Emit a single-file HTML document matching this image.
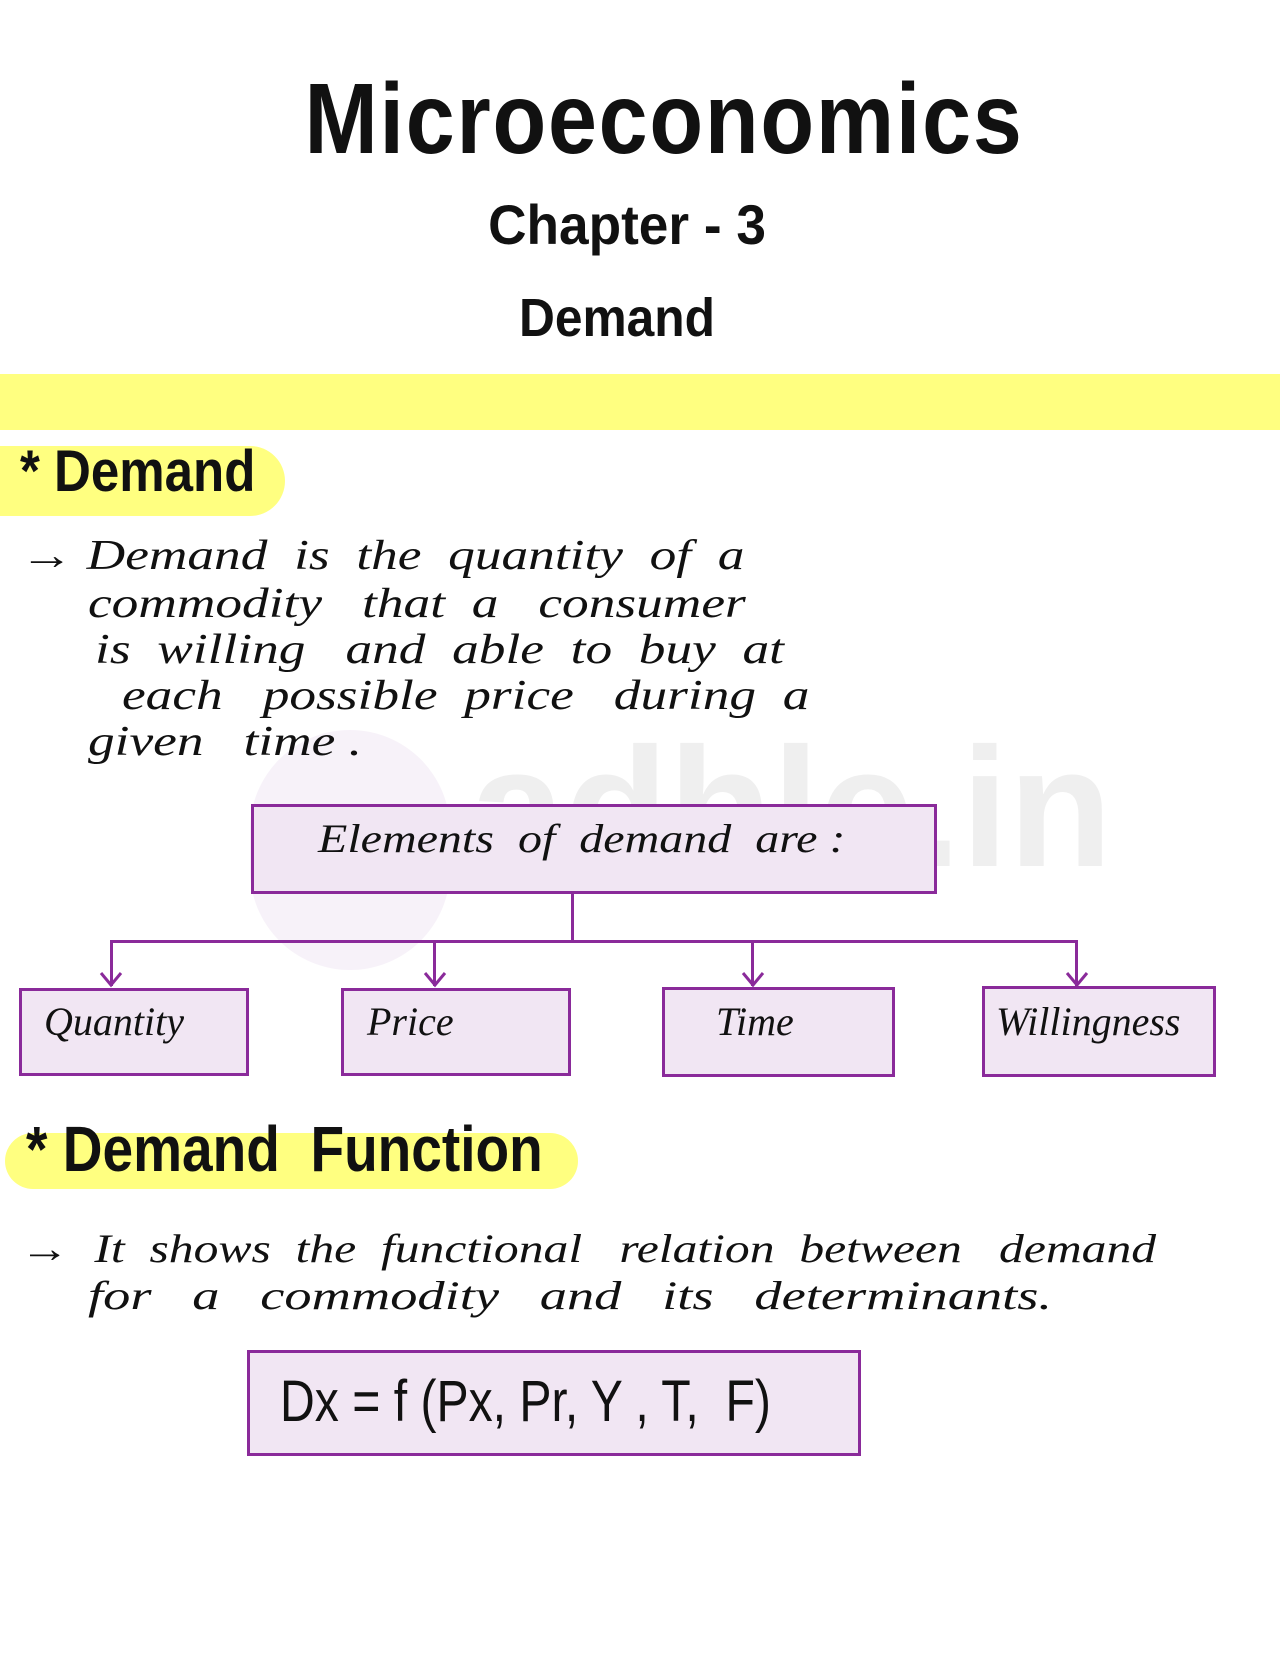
<!DOCTYPE html>
<html><head><meta charset="utf-8"><style>
body{margin:0;width:1280px;height:1653px;background:#fff;position:relative;overflow:hidden;font-family:"Liberation Sans",sans-serif;}
.a{position:absolute;}
.t{font-weight:bold;color:#111;white-space:nowrap;}
.h{font-family:"Liberation Serif",serif;font-style:italic;color:#111;white-space:nowrap;font-size:42px;transform-origin:0 0;transform:scaleX(1.27);}
.box{position:absolute;background:#f1e6f3;border:3px solid #8a2a9a;box-sizing:border-box;}
.ln{position:absolute;background:#8a2a9a;}
</style></head><body>
<div class="a" style="left:470px;top:710px;font-size:170px;color:#efefef;font-weight:bold;white-space:nowrap">adhle.in</div>
<div class="a" style="left:250px;top:730px;width:200px;height:240px;border-radius:100px;background:#f3ecf7;opacity:.7"></div>
<div class="a t" style="left:0;width:1328px;text-align:center;top:62px;font-size:100px;letter-spacing:2px;transform:scaleX(0.88)">Microeconomics</div>
<div class="a t" style="left:0;width:1254px;text-align:center;top:192px;font-size:56px;transform:scaleX(0.95)">Chapter - 3</div>
<div class="a t" style="left:0;width:1234px;text-align:center;top:287px;font-size:54px;transform:scaleX(0.92)">Demand</div>
<div class="a" style="left:0;top:374px;width:1280px;height:56px;background:#ffff80"></div>
<div class="a" style="left:0;top:446px;width:285px;height:70px;background:#ffff80;border-radius:0 35px 35px 0"></div>
<div class="a t" style="left:20px;top:438px;font-size:58px;transform-origin:0 0;transform:scaleX(0.88)">* Demand</div>
<div class="a h" style="left:20px;top:532px">→ Demand &nbsp;is &nbsp;the &nbsp;quantity &nbsp;of &nbsp;a</div>
<div class="a h" style="left:88px;top:580px">commodity &nbsp;&nbsp;that &nbsp;a &nbsp;&nbsp;consumer</div>
<div class="a h" style="left:95px;top:626px">is &nbsp;willing &nbsp;&nbsp;and &nbsp;able &nbsp;to &nbsp;buy &nbsp;at</div>
<div class="a h" style="left:122px;top:672px">each &nbsp;&nbsp;possible &nbsp;price &nbsp;&nbsp;during &nbsp;a</div>
<div class="a h" style="left:88px;top:718px">given &nbsp;&nbsp;time .</div>
<div class="box" style="left:251px;top:804px;width:686px;height:90px"></div>
<div class="a h" style="left:318px;top:815px;font-size:40px;transform:scaleX(1.2)">Elements &nbsp;of &nbsp;demand &nbsp;are :</div>
<div class="ln" style="left:571px;top:894px;width:3px;height:48px"></div>
<div class="ln" style="left:110px;top:940px;width:968px;height:3px"></div>
<div class="ln" style="left:110px;top:940px;width:3px;height:46px"></div>
<div class="ln" style="left:433px;top:940px;width:3px;height:46px"></div>
<div class="ln" style="left:751px;top:940px;width:3px;height:46px"></div>
<div class="ln" style="left:1075px;top:940px;width:3px;height:46px"></div>
<svg class="a" style="left:0;top:0" width="1280" height="1653"><g stroke="#8a2a9a" stroke-width="3" fill="none">
<path d="M101 973l10 12 10-12M425 973l10 12 10-12M743 973l10 12 10-12M1067 973l10 12 10-12"/></g></svg>
<div class="box" style="left:19px;top:988px;width:230px;height:88px"></div>
<div class="box" style="left:341px;top:988px;width:230px;height:88px"></div>
<div class="box" style="left:662px;top:987px;width:233px;height:90px"></div>
<div class="box" style="left:982px;top:986px;width:234px;height:91px"></div>
<div class="a h" style="left:44px;top:998px;font-size:40px;transform:none">Quantity</div>
<div class="a h" style="left:367px;top:998px;font-size:40px;transform:none">Price</div>
<div class="a h" style="left:716px;top:998px;font-size:40px;transform:none">Time</div>
<div class="a h" style="left:996px;top:998px;font-size:40px;transform:none">Willingness</div>
<div class="a" style="left:5px;top:1133px;width:573px;height:56px;background:#ffff80;border-radius:28px"></div>
<div class="a t" style="left:26px;top:1112px;font-size:64px;transform-origin:0 0;transform:scaleX(0.86)">* Demand &nbsp;Function</div>
<div class="a h" style="left:20px;top:1225px;font-size:40px;transform:scaleX(1.24)">→ &nbsp;It &nbsp;shows &nbsp;the &nbsp;functional &nbsp;&nbsp;relation &nbsp;between &nbsp;&nbsp;demand</div>
<div class="a h" style="left:88px;top:1272px;font-size:40px;transform:scaleX(1.36)">for &nbsp;&nbsp;a &nbsp;&nbsp;commodity &nbsp;&nbsp;and &nbsp;&nbsp;its &nbsp;&nbsp;determinants.</div>
<div class="box" style="left:247px;top:1350px;width:614px;height:106px"></div>
<div class="a" style="left:280px;top:1368px;font-size:58px;color:#111;white-space:nowrap;transform-origin:0 0;transform:scaleX(0.83)">Dx = f (Px, Pr, Y , T, &nbsp;F)</div>
</body></html>
